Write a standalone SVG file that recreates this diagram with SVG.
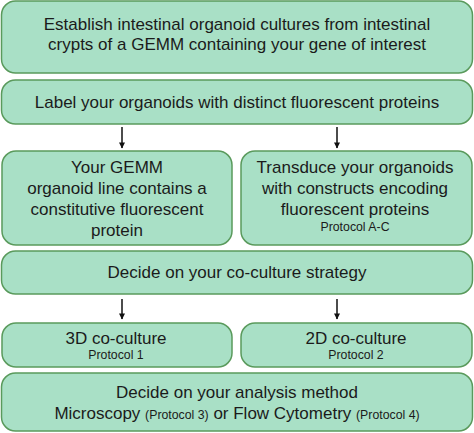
<svg xmlns="http://www.w3.org/2000/svg" width="474" height="433" viewBox="0 0 474 433">
<style>
.box{fill:#a9e0c6;stroke:#5a9a5c;stroke-width:1.5}
.t{font-family:"Liberation Sans",Arial,sans-serif;font-size:17px;fill:#1b1b1b;text-anchor:middle}
.s{font-family:"Liberation Sans",Arial,sans-serif;font-size:12.3px;fill:#1b1b1b;text-anchor:middle}
.c{stroke:#111;stroke-width:1.5;fill:none}
</style>
<defs>
<marker id="ah" viewBox="0 0 10 10" refX="9" refY="5" markerWidth="7" markerHeight="6" orient="auto" markerUnits="userSpaceOnUse">
<path d="M0,0 L10,5 L0,10 Z" fill="#111"/>
</marker>
</defs>
<rect width="474" height="433" fill="#fff"/>
<g id="n1"><rect class="box" x="1.5" y="1" width="471" height="72" rx="14"/>
<text class="t" x="237" y="30">Establish intestinal organoid cultures from intestinal</text>
<text class="t" x="237" y="50">crypts of a GEMM containing your gene of interest</text></g>
<g id="n2"><rect class="box" x="1.5" y="80" width="471" height="44" rx="14"/>
<text class="t" x="237" y="108">Label your organoids with distinct fluorescent proteins</text></g>
<g id="n3"><rect class="box" x="2" y="151" width="230" height="94" rx="14"/>
<text class="t" x="117" y="173">Your GEMM</text>
<text class="t" x="117" y="194">organoid line contains a</text>
<text class="t" x="117" y="215">constitutive fluorescent</text>
<text class="t" x="117" y="236">protein</text></g>
<g id="n4"><rect class="box" x="241" y="151" width="231" height="94" rx="14"/>
<text class="t" x="355" y="173">Transduce your organoids</text>
<text class="t" x="355" y="194">with constructs encoding</text>
<text class="t" x="355" y="215">fluorescent proteins</text>
<text class="s" x="355" y="231">Protocol A-C</text></g>
<g id="n5"><rect class="box" x="1.5" y="251" width="471" height="43" rx="14"/>
<text class="t" x="237" y="278">Decide on your co-culture strategy</text></g>
<g id="n6"><rect class="box" x="2" y="323" width="230" height="44" rx="14"/>
<text class="t" x="116" y="344">3D co-culture</text>
<text class="s" x="116" y="359">Protocol 1</text></g>
<g id="n7"><rect class="box" x="241" y="323" width="231" height="44" rx="14"/>
<text class="t" x="356" y="344">2D co-culture</text>
<text class="s" x="356" y="359">Protocol 2</text></g>
<g id="n8"><rect class="box" x="1.5" y="373" width="471" height="58" rx="14"/>
<text class="t" x="237" y="398">Decide on your analysis method</text>
<text class="t" x="237" y="419">Microscopy <tspan font-size="12.3px">(Protocol 3)</tspan> or Flow Cytometry <tspan font-size="12.3px">(Protocol 4)</tspan></text></g>
<g id="connectors">
<line class="c" x1="122" y1="127" x2="122" y2="148" marker-end="url(#ah)"/>
<line class="c" x1="337" y1="127" x2="337" y2="148" marker-end="url(#ah)"/>
<line class="c" x1="122" y1="299" x2="122" y2="319" marker-end="url(#ah)"/>
<line class="c" x1="337" y1="299" x2="337" y2="319" marker-end="url(#ah)"/>
</g>
</svg>
